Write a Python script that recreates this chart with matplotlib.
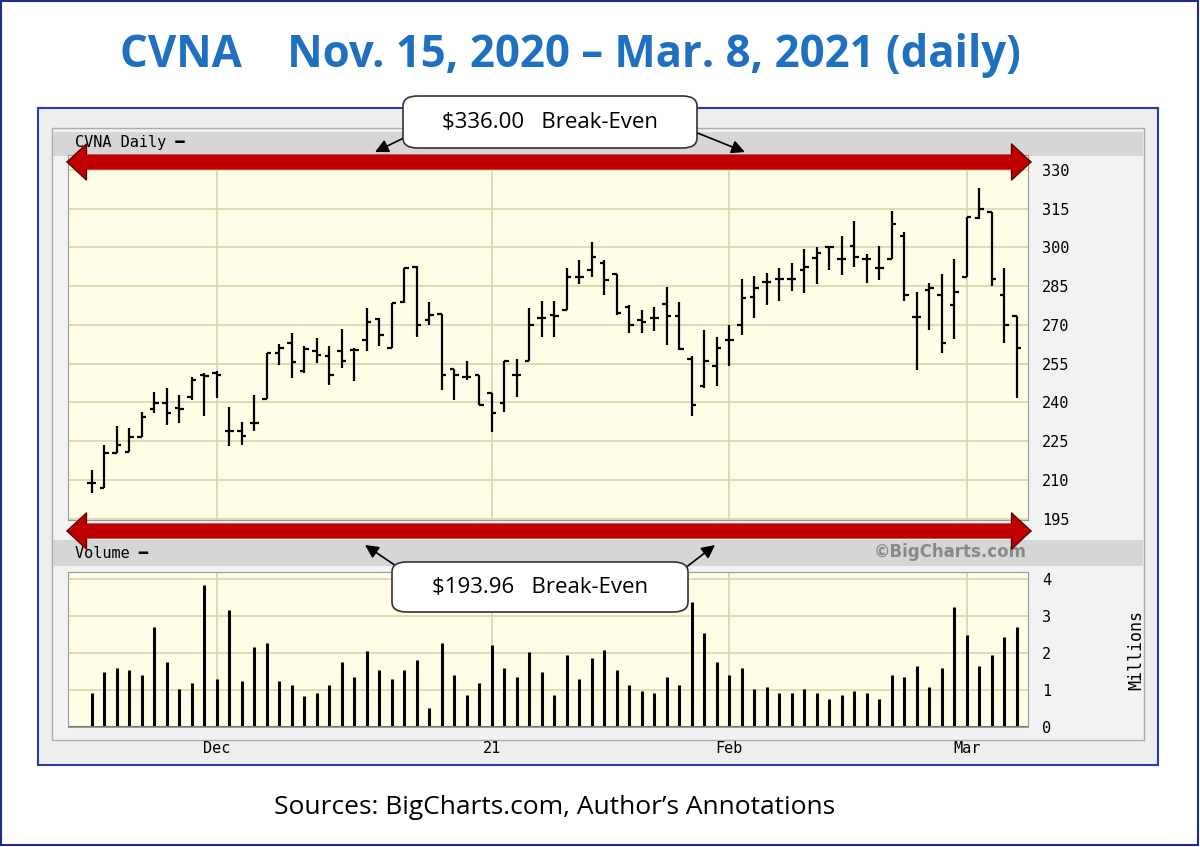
import matplotlib
matplotlib.use("Agg")
from matplotlib import pyplot
from matplotlib.patches import Rectangle, FancyBboxPatch, FancyArrowPatch

# daily bars, Nov 16 2020 .. Mar 2021
opens = [209, 207, 220.4, 221, 226.6, 237.5, 239.7, 237.8, 242, 250.5,
         251.5, 228.8, 229, 232, 241.3, 259, 263, 252, 259.8, 258,
         260, 260.4, 264, 272.3, 261, 279, 292.6, 272, 274.3, 252.9,
         250, 250.7, 243.6, 239.7, 250.7, 255.9, 272.6, 273.8, 275.9, 288.7,
         291.3, 294, 289.8, 277.1, 272, 272.6, 278.1, 273.3, 256.8, 246.2,
         254, 264.2, 270, 281, 286.8, 287.8, 287.8, 291.3, 295.8, 300.1,
         295.4, 300.6, 295.6, 292, 295.4, 304.5, 273, 283.6, 281.6, 277.8,
         288.7, 311.3, 313.9, 281.6, 273.3]
highs = [214, 223.6, 231, 230.3, 236.3, 244.2, 245.5, 243, 250, 251.3,
         252, 238.4, 232.6, 242.7, 259.3, 262.6, 267, 261.7, 264.9, 261.9,
         268.4, 261, 276.7, 272.6, 278.4, 292, 292.9, 278.7, 274.3, 252.9,
         255.9, 250.7, 243.6, 255.9, 256.8, 276.5, 279.1, 279.1, 292, 295.2,
         302.3, 295.2, 289.8, 277.8, 275.9, 277.1, 284.6, 278.7, 257.8, 267.9,
         265.3, 270, 287.7, 289, 290.3, 292, 294.1, 299.3, 300.1, 300.6,
         304.5, 310.3, 297.5, 300.6, 314.1, 306.1, 282.9, 286.4, 289.8, 295.4,
         311.7, 322.9, 313.9, 292, 273.5]
lows = [205, 207, 220.4, 221, 226.6, 235.9, 231.4, 232, 241, 234.8,
        241.7, 223, 223.6, 228.8, 241.3, 254.6, 249.4, 251.3, 255.2, 246.8,
        253.3, 248.5, 260.1, 261.7, 261, 278.4, 265.5, 270, 244.9, 241,
        248.8, 239.1, 228.4, 236.5, 242.3, 255.9, 265.5, 265.5, 275.9, 285.9,
        288.7, 281.6, 273.9, 266.8, 266.8, 267.5, 262.3, 260.4, 234.6, 245.5,
        246.2, 254.2, 266.2, 272.6, 277.8, 279.1, 283, 282.3, 285.8, 291.3,
        289.4, 292.6, 286.2, 287.4, 295.4, 279.1, 252.6, 268.1, 259.1, 264.5,
        288.7, 310.9, 284.9, 263.2, 241.7]
closes = [209, 220.4, 223.6, 226.8, 234.2, 239.7, 235.9, 237.4, 248.8, 250.3,
          250.7, 228.8, 227.1, 232, 259, 261, 255.5, 260.6, 258.4, 250.7,
          255.9, 260.4, 271.3, 266.2, 278.4, 292, 270, 273.9, 250.7, 250.7,
          249.8, 239.1, 235.9, 255.9, 250.7, 270, 272.6, 273.6, 288.7, 288.7,
          296.5, 287.5, 274.5, 270, 271.3, 272.6, 273.3, 260.6, 239.1, 255.9,
          261, 264.2, 280.4, 284.2, 286.8, 287.8, 287.8, 292.6, 297.8, 300.1,
          295.4, 296.5, 295.6, 292, 309, 281.6, 273, 284.2, 263.2, 282.9,
          311.7, 314.8, 287.7, 270, 261]
volume = [0.93, 1.5, 1.6, 1.55, 1.4, 2.7, 1.76, 1.04, 1.19, 3.84,
          1.3, 3.16, 1.25, 2.17, 2.28, 1.25, 1.14, 0.83, 0.93, 1.14,
          1.76, 1.35, 2.07, 1.55, 1.3, 1.55, 1.82, 0.52, 2.28, 1.4,
          0.88, 1.19, 2.23, 1.6, 1.35, 2.02, 1.5, 0.88, 1.96, 1.29,
          1.86, 2.1, 1.55, 1.14, 0.98, 0.93, 1.35, 1.14, 3.4, 2.54,
          1.76, 1.4, 1.6, 1.04, 1.09, 0.93, 0.93, 1.04, 0.93, 0.77,
          0.88, 0.98, 0.93, 0.77, 1.4, 1.35, 1.65, 1.09, 1.6, 3.25,
          2.48, 1.65, 1.96, 2.43, 2.7]
month_idx = [10, 32, 51, 70]
month_labels = ["Dec", "21", "Feb", "Mar"]
price_ticks = [195, 210, 225, 240, 255, 270, 285, 300, 315, 330]
vol_ticks = [0, 1, 2, 3, 4]

W, H = 1200, 847
fig = pyplot.figure(figsize=(12, 8.47), dpi=100)
fig.patch.set_facecolor("white")


def rect(x0, y0, x1, y1):
    """pixel box (top-left origin) -> figure fraction"""
    return [x0 / W, 1 - y1 / H, (x1 - x0) / W, (y1 - y0) / H]


def fp(x, y):
    return (x / W, 1 - y / H)


def box(x0, y0, x1, y1, **kw):
    fig.patches.append(Rectangle(fp(x0, y1), (x1 - x0) / W, (y1 - y0) / H,
                                 transform=fig.transFigure, zorder=-5, **kw))


# outer borders and panel frames
box(1, 1, 1198, 845, fill=False, ec="#1f2d8a", lw=1.5)
box(38, 108, 1158, 765, fc="#eeeeee", ec="#2a3aa8", lw=1.5)
box(52, 128, 1144, 740, fc="#f2f2f2", ec="#aaaaaa", lw=1)
box(53, 132, 1143, 156, fc="#d6d6d6", ec="none")
box(53, 540, 1143, 566, fc="#d6d6d6", ec="none")

fig.text(120 / W, 1 - 55 / H, "CVNA    Nov. 15, 2020 \u2013 Mar. 8, 2021 (daily)",
         ha="left", va="center", fontsize=31.5, fontweight="bold", color="#1f70c0",
         family="Open Sans")
fig.text(555 / W, 1 - 807 / H, "Sources: BigCharts.com, Author\u2019s Annotations",
         ha="center", va="center", fontsize=19, family="Open Sans")
fig.text(75 / W, 1 - 143 / H, "CVNA Daily \u2501", fontsize=11, family="DejaVu Sans Mono", va="center")
fig.text(75 / W, 1 - 553 / H, "Volume \u2501", fontsize=11, family="DejaVu Sans Mono", va="center")
fig.text(1027 / W, 1 - 552 / H, "\u00a9BigCharts.com", fontsize=12, fontweight="bold",
         color="#888888", ha="right", va="center")

bg = "#fffde6"
grid = "#d9d5aa"
xlim = (-1.9, 74.9)
idx = list(range(len(closes)))

# price panel
ax = fig.add_axes(rect(68, 155, 1028, 520))
ax.set_facecolor(bg)
ax.set_xlim(*xlim)
ax.set_ylim(194.5, 335.8)
for p in price_ticks:
    ax.axhline(p, color=grid, lw=1.2, zorder=0)
for m in month_idx:
    ax.axvline(m, color=grid, lw=1.2, zorder=0)
ax.vlines(idx, lows, highs, color="black", lw=1.6)
ax.hlines(opens, [i - 0.35 for i in idx], idx, color="black", lw=1.6)
ax.hlines(closes, idx, [i + 0.35 for i in idx], color="black", lw=1.6)
ax.set_xticks([])
ax.yaxis.tick_right()
ax.set_yticks(price_ticks)
ax.tick_params(axis="y", length=0, pad=10, labelsize=11)
for lab in ax.get_yticklabels():
    lab.set_family("DejaVu Sans Mono")
for s in ax.spines.values():
    s.set_color("#999999")

# volume panel
axv = fig.add_axes(rect(68, 572, 1028, 727))
axv.set_facecolor(bg)
axv.set_xlim(*xlim)
axv.set_ylim(0, 4.2)
for v in vol_ticks:
    axv.axhline(v, color=grid, lw=1.2, zorder=0)
for m in month_idx:
    axv.axvline(m, color=grid, lw=1.2, zorder=0)
axv.vlines(idx, 0, volume, color="black", lw=2.2)
axv.axhline(0, color="#777777", lw=1.5)
axv.yaxis.tick_right()
axv.set_yticks(vol_ticks)
axv.set_xticks(month_idx)
axv.set_xticklabels(month_labels)
axv.tick_params(length=0, pad=10, labelsize=11)
for lab in axv.get_yticklabels() + axv.get_xticklabels():
    lab.set_family("DejaVu Sans Mono")
axv.set_ylabel("Millions", family="DejaVu Sans Mono", fontsize=12, labelpad=55, rotation=90)
axv.yaxis.set_label_position("right")
for s in axv.spines.values():
    s.set_color("#999999")

# break-even arrows and callouts
for y in (162, 531):
    fig.add_artist(FancyArrowPatch(
        fp(66, y), fp(1032, y), transform=fig.transFigure, zorder=5,
        arrowstyle="<|-|>,head_length=14,head_width=13", mutation_scale=1,
        lw=1, fc="#c00000", ec="#5a0000", shrinkA=0, shrinkB=0))
    fig.add_artist(FancyArrowPatch(
        fp(80, y), fp(1018, y), transform=fig.transFigure, zorder=5, arrowstyle="-",
        lw=11, color="#c00000", shrinkA=0, shrinkB=0))

callouts = [("$336.00   Break-Even", (403, 96, 697, 148), [(375, 152), (745, 152)],
             [(420, 130), (690, 130)]),
            ("$193.96   Break-Even", (392, 562, 688, 612), [(365, 545), (715, 545)],
             [(405, 572), (680, 572)])]
for text, (x0, y0, x1, y1), tips, bases in callouts:
    for tip, base in zip(tips, bases):
        fig.add_artist(FancyArrowPatch(
            fp(*base), fp(*tip), transform=fig.transFigure, zorder=6,
            arrowstyle="-|>,head_length=8,head_width=4", mutation_scale=1,
            lw=1.2, color="black", shrinkA=0, shrinkB=0))
    fig.patches.append(FancyBboxPatch(fp(x0, y1), (x1 - x0) / W, (y1 - y0) / H,
                                      boxstyle="round,pad=0,rounding_size=0.012",
                                      transform=fig.transFigure, zorder=7,
                                      fc="white", ec="#333333", lw=1.2))
    fig.text((x0 + x1) / 2 / W, 1 - (y0 + y1) / 2 / H, text, ha="center", va="center",
             fontsize=16, family="Open Sans", zorder=8)

fig.savefig("out.png", dpi=100)
